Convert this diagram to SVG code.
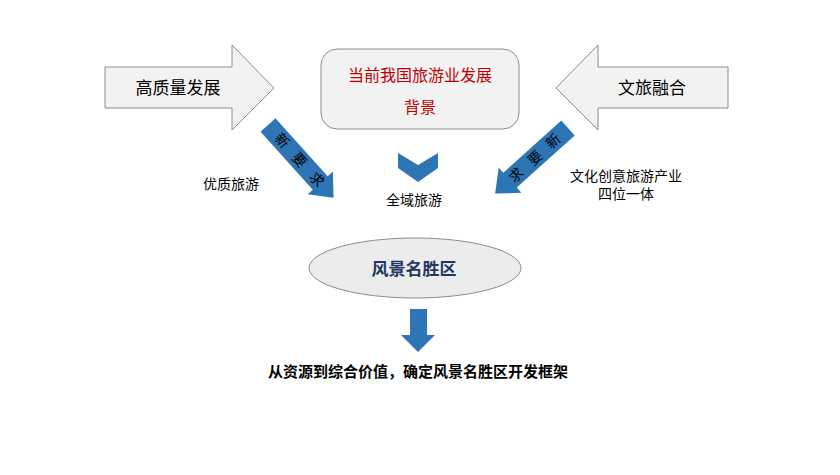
<svg xmlns="http://www.w3.org/2000/svg" width="840" height="475" viewBox="0 0 840 475">
<style>
text{font-family:"Liberation Sans","Noto Sans CJK SC",sans-serif;fill:#000}
.big{stroke:#8c8c8c;stroke-width:1;fill:#f2f2f2}
.blue{fill:#2e75b6}
</style>
<rect width="840" height="475" fill="#fff"/>
<g id="left-arrow"><polygon class="big" points="105,67 232,67 232,45 274,88 232,130 232,108 105,108"/>
<text x="178" y="94" font-size="17" text-anchor="middle">高质量发展</text></g>
<g id="right-arrow"><polygon class="big" points="728,67 598,67 598,45 556,88 598,130 598,108 728,108"/>
<text x="652" y="94" font-size="17" text-anchor="middle">文旅融合</text></g>
<g id="background"><rect x="321" y="49" width="198" height="80" rx="16" class="big"/>
<text x="420" y="81" font-size="16" text-anchor="middle" style="fill:#c00000">当前我国旅游业发展</text>
<text x="420" y="113" font-size="16" text-anchor="middle" style="fill:#c00000">背景</text></g>
<g id="connectors">
<g transform="translate(268,125) rotate(48)"><polygon class="blue" points="0,-10 78,-10 78,-17 98,0 78,17 78,10 0,10"/>
<text x="14" y="5" font-size="14">新</text><text x="40" y="5" font-size="14">要</text><text x="66" y="5" font-size="14">求</text></g>
<g transform="translate(568,128) rotate(138)"><polygon class="blue" points="0,-10 78,-10 78,-17 98,0 78,17 78,10 0,10"/></g>
<text font-size="14" y="5" transform="translate(553,141) rotate(-42)" text-anchor="middle">新</text>
<text font-size="14" y="5" transform="translate(535,158) rotate(-42)" text-anchor="middle">要</text>
<text font-size="14" y="5" transform="translate(516,175) rotate(-42)" text-anchor="middle">求</text>
<polygon class="blue" points="398,153 418,165 438,153 438,168 418,182 398,168"/>
<polygon class="blue" points="410,309 427,309 427,335 435,335 418,352 401,335 410,335"/>
</g>
<g id="labels">
<text x="231" y="189" font-size="14" text-anchor="middle">优质旅游</text>
<text x="414" y="205" font-size="14" text-anchor="middle">全域旅游</text>
<text x="626" y="181" font-size="14" text-anchor="middle">文化创意旅游产业</text>
<text x="626" y="199" font-size="14" text-anchor="middle">四位一体</text>
</g>
<g id="scenic"><ellipse cx="415" cy="268" rx="106" ry="30" fill="#ececec" stroke="#8c8c8c"/>
<text x="414" y="275" font-size="17" font-weight="bold" text-anchor="middle" style="fill:#1f3864">风景名胜区</text></g>
<g id="conclusion"><text x="418" y="377" font-size="15" font-weight="bold" text-anchor="middle">从资源到综合价值，确定风景名胜区开发框架</text></g>
</svg>
